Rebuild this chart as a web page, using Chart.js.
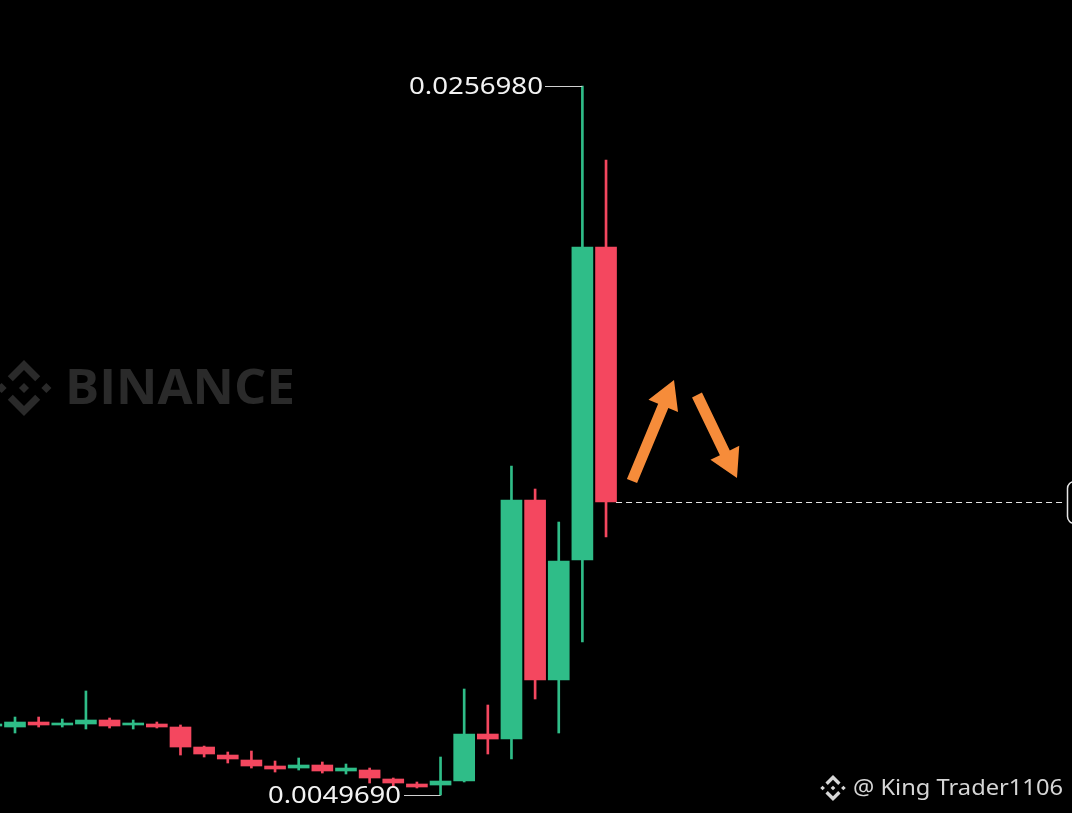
<!DOCTYPE html>
<html>
<head>
<meta charset="utf-8">
<script src="https://cdn.jsdelivr.net/npm/chart.js@4.4.1/dist/chart.umd.min.js"></script>
<style>
  html, body { margin: 0; padding: 0; background: #000; }
  #wrap { width: 1072px; height: 813px; position: relative; }
</style>
</head>
<body>
<div id="wrap"><canvas id="chart"></canvas></div>
<script>
// candle values (oldest first)
const opens  = [0.006986, 0.006957, 0.007103, 0.007016, 0.007045, 0.007162, 0.007016, 0.007045, 0.006957, 0.006372,
                0.006138, 0.005992, 0.005817, 0.005758, 0.005846, 0.005671, 0.005700, 0.005437, 0.005291, 0.005261,
                0.005378, 0.006752, 0.006606, 0.013594, 0.008331, 0.011840, 0.020990];
const highs  = [0.007100, 0.007249, 0.007249, 0.007191, 0.008010, 0.007220, 0.007162, 0.007103, 0.007016, 0.006400,
                0.006226, 0.006255, 0.005963, 0.006051, 0.005934, 0.005875, 0.005758, 0.005466, 0.005349, 0.006080,
                0.008068, 0.007600, 0.014588, 0.013915, 0.012950, 0.025698, 0.023534];
const lows   = [0.006950, 0.006782, 0.006957, 0.006957, 0.006899, 0.006928, 0.006899, 0.006928, 0.006138, 0.006080,
                0.005905, 0.005758, 0.005641, 0.005700, 0.005612, 0.005583, 0.005320, 0.005203, 0.005174, 0.004969,
                0.005350, 0.006168, 0.006022, 0.007776, 0.006782, 0.009442, 0.012512];
const closes = [0.007045, 0.007103, 0.007016, 0.007074, 0.007162, 0.006986, 0.007074, 0.006957, 0.006372, 0.006168,
                0.006022, 0.005817, 0.005729, 0.005846, 0.005671, 0.005758, 0.005466, 0.005320, 0.005203, 0.005378,
                0.006752, 0.006606, 0.013594, 0.008331, 0.011810, 0.020990, 0.013535];

const highLabel = "0.0256980";
const lowLabel = "0.0049690";
const lastPrice = 0.013535;

const UP = "#2fbd88", DOWN = "#f4475f";
const colors = opens.map((o, i) => closes[i] >= o ? UP : DOWN);

const wickData = highs.map((h, i) => ({ x: i, y: [lows[i], h] }));
const bodyData = opens.map((o, i) => ({ x: i, y: [Math.min(o, closes[i]), Math.max(o, closes[i])] }));

function binanceLogo(ctx, cx, cy, s, color) {
  ctx.save();
  ctx.translate(cx, cy);
  ctx.fillStyle = color;
  const poly = pts => {
    ctx.beginPath();
    pts.forEach((p, k) => k ? ctx.lineTo(p[0] * s, p[1] * s) : ctx.moveTo(p[0] * s, p[1] * s));
    ctx.closePath();
    ctx.fill();
  };
  poly([[0, -1], [0.58, -0.42], [0.4, -0.24], [0, -0.64], [-0.4, -0.24], [-0.58, -0.42]]);
  poly([[0, 1], [0.58, 0.42], [0.4, 0.24], [0, 0.64], [-0.4, 0.24], [-0.58, 0.42]]);
  poly([[0, -0.18], [0.18, 0], [0, 0.18], [-0.18, 0]]);
  poly([[0.8, -0.18], [0.98, 0], [0.8, 0.18], [0.62, 0]]);
  poly([[-0.8, -0.18], [-0.62, 0], [-0.8, 0.18], [-0.98, 0]]);
  ctx.restore();
}

function fitText(ctx, text, x, y, width) {
  const w = ctx.measureText(text).width;
  ctx.save();
  ctx.translate(x, y);
  ctx.scale(width / w, 1);
  ctx.fillText(text, 0, 0);
  ctx.restore();
}

function arrow(ctx, x1, y1, x2, y2, shaft, headW, headL) {
  const a = Math.atan2(y2 - y1, x2 - x1);
  const len = Math.hypot(x2 - x1, y2 - y1);
  ctx.save();
  ctx.translate(x1, y1);
  ctx.rotate(a);
  ctx.beginPath();
  ctx.moveTo(0, -shaft / 2);
  ctx.lineTo(len - headL, -shaft / 2);
  ctx.lineTo(len - headL, -headW / 2);
  ctx.lineTo(len, 0);
  ctx.lineTo(len - headL, headW / 2);
  ctx.lineTo(len - headL, shaft / 2);
  ctx.lineTo(0, shaft / 2);
  ctx.closePath();
  ctx.fill();
  ctx.restore();
}

const watermark = {
  id: "watermark",
  beforeDatasetsDraw(chart) {
    const ctx = chart.ctx;
    binanceLogo(ctx, 24, 388, 28, "#2a2a2a");
    ctx.fillStyle = "#2a2a2a";
    ctx.font = "bold 49px 'Open Sans'";
    ctx.textBaseline = "alphabetic";
    fitText(ctx, "BINANCE", 65, 404, 230);
  }
};

const overlay = {
  id: "overlay",
  afterDatasetsDraw(chart) {
    const ctx = chart.ctx, xs = chart.scales.x, ys = chart.scales.y;
    const hiIdx = highs.indexOf(Math.max(...highs));
    const loIdx = lows.indexOf(Math.min(...lows));
    const hx = xs.getPixelForValue(hiIdx), hy = ys.getPixelForValue(highs[hiIdx]);
    const lx = xs.getPixelForValue(loIdx), ly = ys.getPixelForValue(lows[loIdx]);

    ctx.save();
    ctx.fillStyle = "#f2f2f2";
    ctx.strokeStyle = "#d0d0d0";
    ctx.lineWidth = 1;
    ctx.font = "24px 'Noto Sans'";
    ctx.textBaseline = "middle";
    fitText(ctx, highLabel, 409, hy + 1, 134);
    fitText(ctx, lowLabel, 268, ly + 1, 133);
    ctx.beginPath();
    ctx.moveTo(545, Math.round(hy) + 0.5); ctx.lineTo(hx, Math.round(hy) + 0.5);
    ctx.moveTo(404, Math.round(ly) + 0.5); ctx.lineTo(lx, Math.round(ly) + 0.5);
    ctx.stroke();

    // last price dashed line
    const py = Math.round(ys.getPixelForValue(lastPrice)) + 0.5;
    const lastX = xs.getPixelForValue(opens.length - 1) + 10;
    ctx.strokeStyle = "#e6e6e6";
    ctx.setLineDash([6, 4]);
    ctx.beginPath();
    ctx.moveTo(lastX, py); ctx.lineTo(1064, py);
    ctx.stroke();
    ctx.setLineDash([]);
    ctx.lineWidth = 1.5;
    ctx.beginPath();
    ctx.roundRect(1067.5, py - 21, 30, 42, 7);
    ctx.stroke();

    // orange arrows
    ctx.fillStyle = "#f68c3a";
    arrow(ctx, 632, 481, 674, 380, 11, 32, 28);
    arrow(ctx, 697, 395, 737, 478, 11, 32, 28);

    // credit
    binanceLogo(ctx, 833, 788, 13, "#d6d6d6");
    ctx.fillStyle = "#d6d6d6";
    ctx.font = "21px 'Noto Sans'";
    ctx.textBaseline = "alphabetic";
    fitText(ctx, "@ King Trader1106", 853, 795, 210);
    ctx.restore();
  }
};

new Chart(document.getElementById("chart"), {
  type: "bar",
  data: {
    datasets: [
      { data: bodyData, backgroundColor: colors, barThickness: 21, minBarLength: 2, grouped: false },
      { data: wickData, backgroundColor: colors, barThickness: 2, grouped: false }
    ]
  },
  options: {
    responsive: true,
    maintainAspectRatio: false,
    animation: false,
    layout: { padding: 0 },
    plugins: { legend: { display: false }, tooltip: { enabled: false } },
    scales: {
      x: { type: "linear", min: 0.3655, max: 45.71, offset: false, display: false },
      y: { type: "linear", min: 0.004443, max: 0.028212, display: false }
    }
  },
  plugins: [watermark, overlay]
});
</script>
</body>
</html>
